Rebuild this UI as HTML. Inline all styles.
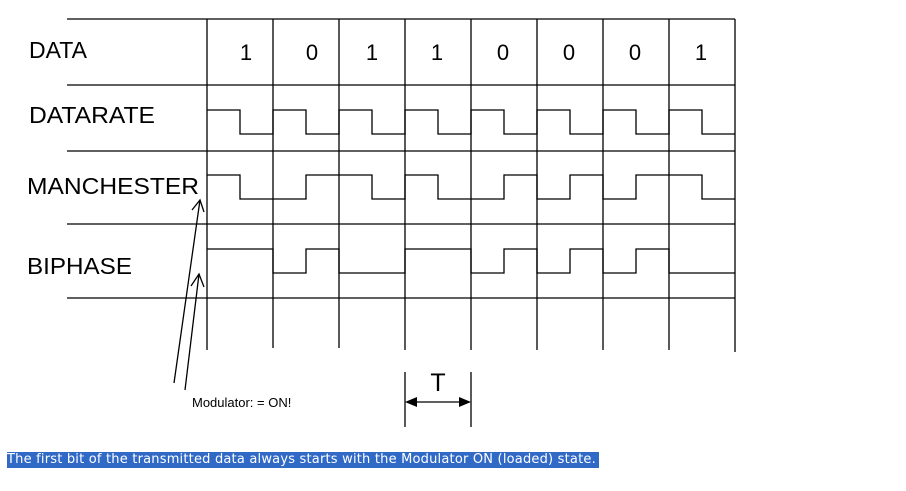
<!DOCTYPE html>
<html><head><style>
body{margin:0;background:#fff;width:906px;height:491px;overflow:hidden;position:relative;font-family:"Liberation Sans",Arial,sans-serif}
.sel{position:absolute;left:7px;top:452px;height:16px;width:592px;background:#3169c6;color:#fff;font-family:"DejaVu Sans",Verdana,sans-serif;font-size:13px;line-height:16px;white-space:nowrap;overflow:hidden;letter-spacing:0.2px}
svg text{font-family:"Liberation Sans",Arial,sans-serif}
</style></head><body>
<svg width="906" height="491" style="position:absolute;left:0;top:0">
<g stroke="#000" stroke-width="1.3" fill="none">
<line x1="67" y1="19" x2="735" y2="19"/>
<line x1="67" y1="85" x2="735" y2="85"/>
<line x1="67" y1="151" x2="735" y2="151"/>
<line x1="67" y1="224" x2="735" y2="224"/>
<line x1="67" y1="298" x2="735" y2="298"/>
<line x1="207" y1="19" x2="207" y2="350"/>
<line x1="273" y1="19" x2="273" y2="348"/>
<line x1="339" y1="19" x2="339" y2="348"/>
<line x1="405" y1="19" x2="405" y2="350"/>
<line x1="471" y1="19" x2="471" y2="350"/>
<line x1="537" y1="19" x2="537" y2="350"/>
<line x1="603" y1="19" x2="603" y2="350"/>
<line x1="669" y1="19" x2="669" y2="350"/>
<line x1="735" y1="19" x2="735" y2="352"/>
<path d="M207 110H240V134H273V110H306V134H339V110H372V134H405V110H438V134H471V110H504V134H537V110H570V134H603V110H636V134H669V110H702V134H735"/>
<path d="M207 175H240V199H306V175H372V199H405V175H438V199H504V175H537V199H570V175H603V199H636V175H702V199H735"/>
<path d="M207 249H273V273H306V249H339V273H405V249H471V273H504V249H537V273H570V249H603V273H636V249H669V273H735"/>
<line x1="174" y1="383" x2="200" y2="200"/>
<path d="M192 210L200 200L204 212"/>
<line x1="185" y1="390" x2="199" y2="274"/>
<path d="M191 286L199 274L204 287"/>
<line x1="405" y1="372" x2="405" y2="427"/>
<line x1="471" y1="372" x2="471" y2="427"/>
<line x1="410" y1="402" x2="466" y2="402"/>
</g>
<path d="M405 402L417 397L417 407Z M471 402L459 397L459 407Z" fill="#000"/>
<g fill="#000">
<text x="29" y="58" font-size="23">DATA</text>
<text x="29" y="123" font-size="23" textLength="126" lengthAdjust="spacingAndGlyphs">DATARATE</text>
<text x="27" y="194" font-size="23" textLength="172" lengthAdjust="spacingAndGlyphs">MANCHESTER</text>
<text x="27" y="274" font-size="23" textLength="105" lengthAdjust="spacingAndGlyphs">BIPHASE</text>
<g font-size="22" text-anchor="middle">
<text x="246" y="60">1</text><text x="312" y="60">0</text><text x="372" y="60">1</text><text x="437" y="60">1</text><text x="503" y="60">0</text><text x="569" y="60">0</text><text x="635" y="60">0</text><text x="701" y="60">1</text>
</g>
<text x="192" y="407" font-size="13">Modulator: = ON!</text>
<text x="438" y="391" font-size="25" text-anchor="middle">T</text>
</g>
</svg>
<div class="sel">The first bit of the transmitted data always starts with the Modulator ON (loaded) state.</div>
</body></html>
